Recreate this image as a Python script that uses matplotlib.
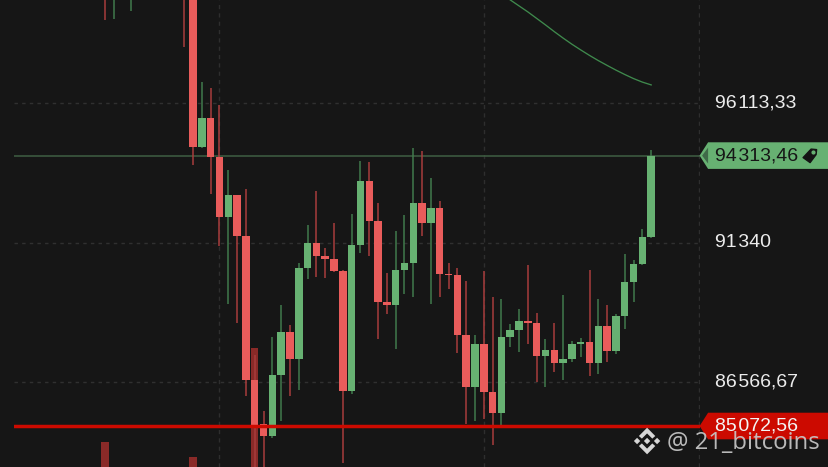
#!/usr/bin/env python3
"""BTC candlestick chart, dark theme, with last price and low price tags."""

import matplotlib
matplotlib.use('Agg')
import matplotlib.pyplot as plt
from matplotlib.patches import Polygon

BG = '#161616'
GREEN = '#67b172'
RED = '#e95c5b'
WICK_GREEN = '#417a4c'
WICK_RED = '#a83c3c'

# candles that are on screen, one value per candle
opens = [100660, 94599, 95601, 94268, 92217, 92959, 91557, 86646, 85131, 84732,
         86816, 88296, 87363, 90484, 91328, 90894, 90792, 90361, 86280, 91270,
         93437, 92080, 89322, 89219, 90395, 90634, 92685, 92012, 92514, 90258,
         90234, 88173, 86416, 87866, 86235, 85507, 88126, 88355, 88662, 88604,
         87476, 87671, 87216, 87363, 87876, 87944, 87237, 88481, 87647, 88833,
         89985, 90621, 91523]
highs = [101685, 96841, 96626, 96045, 93823, 92959, 93164, 87500, 85596, 88115,
         89219, 88525, 90634, 91943, 93095, 91157, 92002, 90405, 92309, 94141,
         94087, 92685, 90293, 91749, 92285, 94586, 94473, 93540, 92764, 90634,
         90463, 90040, 88173, 90361, 89472, 89404, 88560, 89072, 90576, 88936,
         88037, 88584, 89561, 87979, 88071, 90395, 89404, 89199, 88912, 90952,
         90737, 91807, 94497]
lows = [94005, 94575, 93013, 91226, 89254, 88604, 86099, 82544, 82544, 84673,
        85255, 86099, 86304, 90088, 90176, 90142, 90337, 83819, 86177, 90986,
        90884, 88047, 88901, 87705, 89595, 89493, 91557, 89254, 89483, 89756,
        87579, 85131, 85255, 85302, 84434, 85107, 87784, 87592, 87886, 86587,
        86416, 86929, 86646, 87251, 87432, 86793, 86840, 87251, 87545, 88378,
        89312, 90576, 91509]
closes = [94599, 95601, 94268, 92217, 92959, 91557, 86646, 85107, 84732, 86816,
          88296, 87363, 90484, 91328, 90894, 90792, 90361, 86280, 91270, 93437,
          92080, 89322, 89219, 90395, 90634, 92685, 92012, 92514, 90258, 90234,
          88173, 86416, 87866, 86235, 85507, 88126, 88355, 88662, 88604, 87476,
          87671, 87216, 87363, 87876, 87944, 87237, 88481, 87647, 88833, 89985,
          90621, 91523, 94313]

# older candles, only the tips of their lower wicks are still visible
old_index = [-10, -9, -7, -1]
old_lows = [98950, 98985, 99258, 98027]
old_up = [False, True, True, False]

# moving average, candle 35 onward
ma_index = list(range(35, 53))
ma_values = [99839, 99634, 99429, 99224, 99002, 98780, 98550, 98330, 98120,
             97925, 97737, 97560, 97395, 97235, 97085, 96945, 96825, 96729]

# volume bars, arbitrary units
vol_index = [-10, 0, 7]
vol_values = [250, 103, 1193]

tick_values = [96113.33, 91340, 86566.67]
tick_labels = ['96\u200a113,33', '91\u200a340', '86\u200a566,67']
day_lines = [3, 33, 57.45]

last_price = 94313.46
last_label = '94\u200a313,46'
low_price = 85072.56
low_label = '85\u200a072,56'

Y_MIN, Y_MAX = 83672, 99634
X_MIN, X_MAX = -20.32, 57.55
FONT_SIZE = 14


def draw_tag(ov, price, color, tip_color, label, text_color):
    half = 13.3 * 34.18
    ov.add_patch(Polygon([(699.5, price), (708, price + half), (829, price + half),
                          (829, price - half), (708, price - half)],
                         closed=True, fc=color, ec='none', zorder=5))
    if tip_color:
        ov.add_patch(Polygon([(702, price), (708, price + half * 0.6), (708, price - half * 0.6)],
                             closed=True, fc=tip_color, ec='none', zorder=6))
    ov.text(715, price, label, color=text_color, fontsize=FONT_SIZE, va='center',
            ha='left', family='Liberation Sans', zorder=7)


def draw_price_icon(ov, price):
    # small tag glyph next to the last price
    u = 34.18
    ov.add_patch(Polygon([(803, price - 2 * u), (810, price - 7 * u), (816, price + 1 * u),
                          (816.5, price + 6 * u), (811, price + 6.5 * u)],
                         closed=True, fc='#141414', ec='#141414', lw=1, joinstyle='round', zorder=7))
    ov.plot([812.8], [price + 3.5 * u], 'o', ms=2, color=GREEN, zorder=8)


def draw_logo(ov, cx, price):
    u = 34.18
    color = '#d6d6d6'

    def diamond(x, y, r):
        ov.add_patch(Polygon([(x - r, y), (x, y + r * u), (x + r, y), (x, y - r * u)],
                             closed=True, fc=color, ec='none', zorder=8))

    diamond(cx, price, 3.2)
    diamond(cx - 10, price, 3.2)
    diamond(cx + 10, price, 3.2)
    for sign in (1, -1):
        ov.add_patch(Polygon([(cx - 8.2, price + sign * 5 * u), (cx, price + sign * 13.3 * u),
                              (cx + 8.2, price + sign * 5 * u), (cx + 5.2, price + sign * 2.4 * u),
                              (cx, price + sign * 7.6 * u), (cx - 5.2, price + sign * 2.4 * u)],
                             closed=True, fc=color, ec='none', zorder=8))


fig = plt.figure(figsize=(8.281, 4.671), dpi=100, facecolor=BG)
pos = [14 / 828, 0, 686 / 828, 1]

# volume goes in its own axes behind the candles
vol_ax = fig.add_axes(pos, facecolor=BG)
vol_ax.bar(vol_index, vol_values, width=0.85, color='#8a2a28')
vol_ax.set_xlim(X_MIN, X_MAX)
vol_ax.set_ylim(0, 4670)
vol_ax.axis('off')

ax = fig.add_axes(pos)
ax.patch.set_visible(False)
for s in ax.spines.values():
    s.set_visible(False)

# grid
ax.set_yticks(tick_values)
ax.set_yticklabels(tick_labels, fontsize=FONT_SIZE, color='#ececec', family='Liberation Sans', va='center')
ax.yaxis.tick_right()
ax.tick_params(axis='y', length=0, pad=10.8)
ax.set_xticks([])
ax.grid(True, axis='y', color='#303030', linewidth=1, linestyle=(0, (2.5, 3)), zorder=0)
for d in day_lines:
    ax.axvline(d, color='#2e2e2e', linewidth=1, linestyle=(0, (3, 3)), zorder=0)

# last price line sits behind the candles
ax.axhline(last_price, color='#3f5f43', linewidth=1.1, zorder=1)

# wicks
old_colors = [WICK_GREEN if u else WICK_RED for u in old_up]
ax.vlines(old_index, old_lows, Y_MAX + 2000, colors=old_colors, linewidth=1.1, zorder=2)
xs = list(range(len(opens)))
up = [c >= o for o, c in zip(opens, closes)]
ax.vlines(xs, lows, highs, colors=[WICK_GREEN if u else WICK_RED for u in up],
          linewidth=1.1, zorder=2)

# bodies
bottoms = [min(o, c) for o, c in zip(opens, closes)]
heights = [abs(o - c) for o, c in zip(opens, closes)]
ax.bar(xs, heights, bottom=bottoms, width=0.85, zorder=3,
       color=[GREEN if u else RED for u in up], linewidth=0)

ax.plot(ma_index, ma_values, color='#3f8a4d', linewidth=0.95, zorder=3)

# support line on top of everything
ax.axhline(low_price, color='#cc0a00', linewidth=2.5, zorder=4)

ax.set_xlim(X_MIN, X_MAX)
ax.set_ylim(Y_MIN, Y_MAX)

# overlay in pixel x and price y, for the tags and the watermark
ov = fig.add_axes([0, 0, 1, 1])
ov.patch.set_visible(False)
ov.axis('off')
ov.set_xlim(0, 828)
ov.set_ylim(Y_MIN, Y_MAX)

draw_tag(ov, last_price, GREEN, '#3f6a49', last_label, '#161616')
draw_price_icon(ov, last_price)
draw_tag(ov, low_price, '#cc0a00', None, low_label, '#f4f4f4')

wm_price = low_price - 15 * 34.18
draw_logo(ov, 647, wm_price)
ov.text(667, wm_price - 2 * 34.18, '@ 21_bitcoins', color='#c8c8c8', alpha=0.92, fontsize=17.2,
        va='center', ha='left', family='Open Sans', zorder=8)

fig.savefig('out.png', dpi=100, facecolor=BG)
